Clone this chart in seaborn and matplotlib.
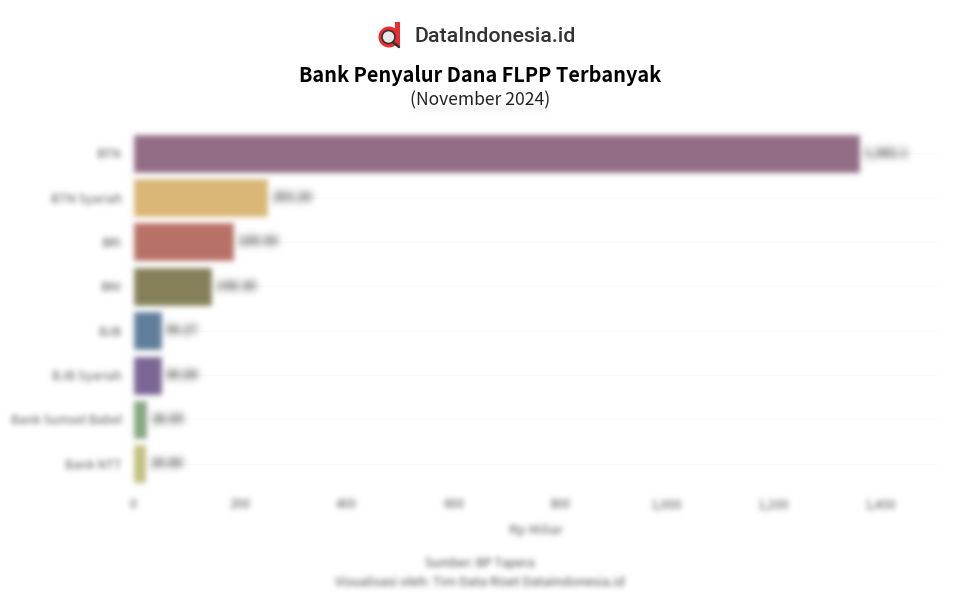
import numpy as np
import pandas as pd
import seaborn as sns
import matplotlib
matplotlib.use("Agg")
import matplotlib.pyplot as plt
from matplotlib.patches import Circle, Rectangle

banks = ["BTN", "BTN Syariah", "BRI", "BNI", "BJB", "BJB Syariah", "Bank Sumsel Babel", "Bank NTT"]
values = [1362.10, 253.20, 189.50, 148.30, 54.27, 54.09, 26.85, 24.60]
colors = ["#926C85", "#DAB676", "#B87065", "#858059", "#5F7D9B", "#7A6595", "#86A680", "#C2C07F"]
xticks = [0, 200, 400, 600, 800, 1000, 1200, 1400]


def blur(sigma):
    # gaussian blur for agg_filter, the chart body is blurred in the reference
    r = int(3 * sigma)
    kernel = np.exp(-0.5 * (np.arange(-r, r + 1) / sigma) ** 2)
    kernel /= kernel.sum()

    def smooth(a):
        out = np.zeros_like(a)
        for k, w in zip(range(-r, r + 1), kernel):
            out += w * np.roll(a, k, axis=0)
        res = np.zeros_like(a)
        for k, w in zip(range(-r, r + 1), kernel):
            res += w * np.roll(out, k, axis=1)
        return res

    def process(img, dpi):
        pad = r + 2
        img = np.pad(img.astype(float), ((pad, pad), (pad, pad), (0, 0)))
        a = img[..., 3:4]
        rgb = smooth(img[..., :3] * a)
        a = smooth(a)
        rgb = np.where(a > 1e-4, rgb / np.maximum(a, 1e-4), 0)
        return np.clip(np.concatenate([rgb, a], axis=2), 0, 1), -pad, -pad

    return process


def value_label(v):
    return f"{v:,.1f}" if v >= 1000 else f"{v:,.2f}"


sns.set_theme(style="white")
plt.rcParams["font.family"] = ["Noto Sans CJK SC", "DejaVu Sans"]

df = pd.DataFrame({"bank": banks, "value": values})

fig = plt.figure(figsize=(9.6, 6), dpi=100)
ax = fig.add_axes([133 / 960, 1 - 486 / 600, 805 / 960, 355 / 600])
sns.barplot(data=df, y="bank", x="value", hue="bank", palette=colors, legend=False,
            width=0.88, saturation=1, ax=ax)
ax.set_xlim(0, 1508)
ax.set_xticks(xticks)
ax.set_xticklabels([f"{t:,}" for t in xticks])
ax.set_xlabel("Rp Miliar", fontsize=9.5, color="#555555", labelpad=9)
ax.set_ylabel("")
ax.tick_params(axis="both", length=0, labelsize=9, labelcolor="#555555")
ax.tick_params(axis="y", pad=8)
ax.tick_params(axis="x", pad=9)
sns.despine(ax=ax, left=True, bottom=True)
ax.grid(axis="y", color="#fafafa", lw=1)
ax.set_axisbelow(True)

f = blur(2.8)
for c in ax.containers:
    for p in c:
        p.set_agg_filter(f)
    for t in ax.bar_label(c, fmt=value_label, padding=3, fontsize=8.8, color="#333333",
                          fontweight="bold"):
        t.set_agg_filter(f)
for t in ax.get_xticklabels() + ax.get_yticklabels() + [ax.xaxis.label]:
    t.set_agg_filter(f)

# overlay in pixel coordinates for header, logo and footer
top = fig.add_axes([0, 0, 1, 1], facecolor="none")
top.set_xlim(0, 960)
top.set_ylim(600, 0)
top.axis("off")

top.text(495, 36, "DataIndonesia.id", ha="center", va="center", fontsize=15.4, color="#333333",
         family="Roboto", fontweight="medium")
top.text(480, 75, "Bank Penyalur Dana FLPP Terbanyak", ha="center", va="center", fontsize=14.3,
         fontweight="bold", color="black")
top.text(480, 100, "(November 2024)", ha="center", va="center", fontsize=12.6, color="#222222")
shadow = top.add_patch(Rectangle((412, 107), 136, 2, color="#dddddd", lw=0))
shadow.set_agg_filter(blur(2.5))

top.add_patch(Circle((389, 37), 10.5, color="#EE2B2F", lw=0))
top.add_patch(Rectangle((395, 22), 5, 24, color="#EE2B2F", lw=0))
top.add_patch(Circle((388.5, 37), 6.5, color="#E8E8E8", ec="#333333", lw=1.2))
top.plot([393, 399], [42, 47], color="#333333", lw=1.8, solid_capstyle="round")

for s in [top.text(480, 564, "Sumber: BP Tapera", ha="center", va="center", fontsize=8.8, color="#444444"),
          top.text(480, 582, "Visualisasi oleh: Tim Data Riset DataIndonesia.id",
                   ha="center", va="center", fontsize=9.3, color="#444444")]:
    s.set_agg_filter(f)

fig.savefig("out.png", dpi=100)
